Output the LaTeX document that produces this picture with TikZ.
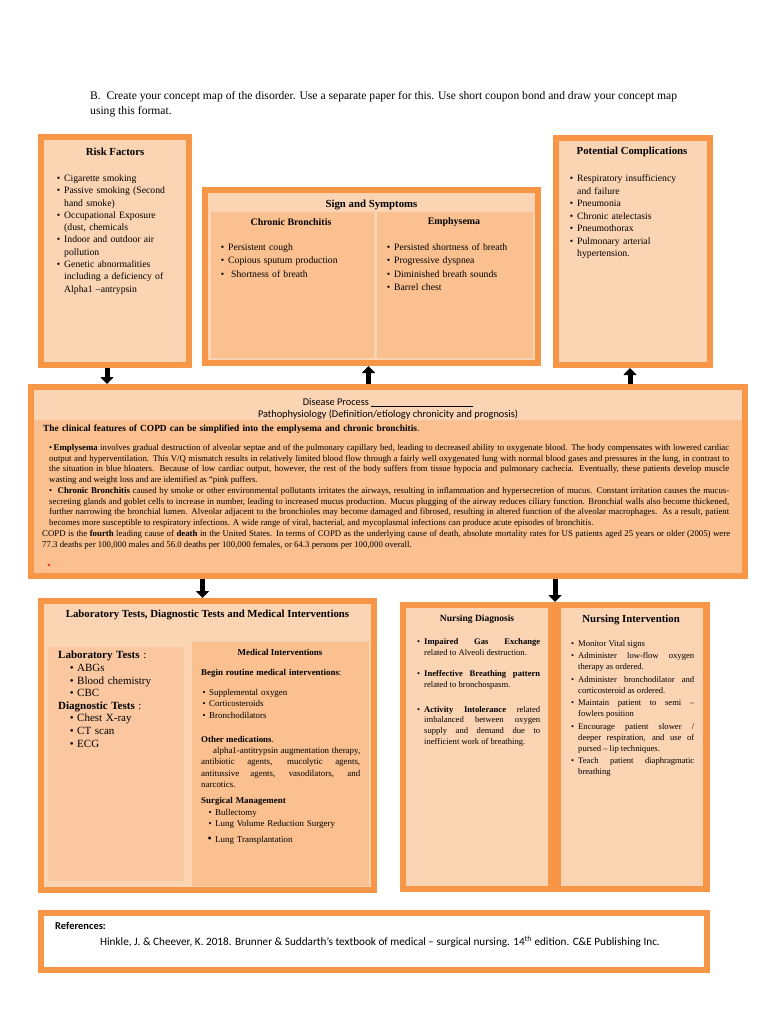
\documentclass[tikz,border=0pt]{standalone}
\usepackage{fontspec}
\setmainfont{Liberation Serif}
\newfontfamily\calibri{Carlito}
\usepackage{enumitem}
\usetikzlibrary{arrows.meta, positioning}
\definecolor{bandorange}{HTML}{F79646}
\definecolor{peachlight}{HTML}{FBD4B4}
\definecolor{peachmid}{HTML}{FAC7A0}
\definecolor{peachdark}{HTML}{FAC090}
\definecolor{dotred}{HTML}{E8322C}

\tikzset{
  boxframe/.style={rectangle, draw=bandorange, line width=6pt, fill=peachlight, inner sep=0pt},
  headtext/.style={inner sep=0pt, font=\bfseries\fontsize{10.8}{12}\selectfont},
  bodytext/.style={inner sep=0pt, anchor=north west, align=left},
  blockarrow/.style={line width=5pt, -{Triangle[width=13pt,length=7pt]}},
}

\begin{document}
\begin{tikzpicture}[x=1pt, y=-1pt]
    \useasboundingbox (0,0) rectangle (768,1024);

    % Instruccion
    \node[bodytext, font=\fontsize{11.6}{15}\selectfont] (task) at (90,91) {B.\ \ Create your concept map of the disorder. Use a separate paper for this. Use short coupon bond and draw your concept map\\using this format.};

    % Marcos
    \node[boxframe, minimum width=148pt, minimum height=228pt] (risk) at (115,251) {};
    \node[boxframe, minimum width=333pt, minimum height=173pt] (sign) at (371.5,276.5) {};
    \node[boxframe, minimum width=154pt, minimum height=227pt] (compl) at (633,251.5) {};
    \node[boxframe, minimum width=714pt, minimum height=189pt] (disease) at (388,481.5) {};
    \node[boxframe, minimum width=333pt, minimum height=289pt] (labs) at (207.5,745.5) {};
    \node[boxframe, fill=bandorange, minimum width=304pt, minimum height=284pt] (nursing) at (555,747) {};
    \node[boxframe, fill=white, minimum width=666pt, minimum height=57pt] (refs) at (374,941.5) {};

    % Paneles interiores
    \fill[peachdark] (211,212) rectangle (373.5,358);
    \fill[peachdark] (376.5,212) rectangle (533,358);
    \fill[peachdark] (34,420) rectangle (742,573);
    \fill[peachmid] (48,647) rectangle (184,881);
    \fill[peachdark] (192,642) rectangle (369,886);
    \fill[peachlight] (406,608) rectangle (548,886);
    \fill[peachlight] (561,608) rectangle (703,886);

    % Factores de riesgo
    \node[headtext] (risktitle) at (115,152) {Risk Factors};
    \node[bodytext, text width=124pt, font=\fontsize{9.7}{12.3}\selectfont] (risklist) at (53,169) {%
      \begin{itemize}[nosep, leftmargin=11pt, labelsep=4pt]
        \item Cigarette smoking
        \item Passive smoking (Second\newline hand smoke)
        \item Occupational Exposure\newline (dust, chemicals
        \item Indoor and outdoor air\newline pollution
        \item Genetic abnormalities\newline including a deficiency of\newline Alpha1 --antrypsin
      \end{itemize}};

    % Signos y sintomas
    \node[headtext] (signtitle) at (371.5,205) {Sign and Symptoms};
    \node[headtext, font=\bfseries\fontsize{9.9}{11}\selectfont] (bronchhead) at (291,222) {Chronic Bronchitis};
    \node[headtext, font=\bfseries\fontsize{9.9}{11}\selectfont] (emphhead) at (454,222) {Emphysema};
    \node[bodytext, text width=150pt, font=\fontsize{9.7}{13.3}\selectfont] (bronchlist) at (213,237) {%
      \begin{itemize}[nosep, leftmargin=15pt, labelsep=4pt]
        \item Persistent cough
        \item Copious sputum production
        \item \hspace{3pt}Shortness of breath
      \end{itemize}};
    \node[bodytext, text width=150pt, font=\fontsize{9.7}{13.3}\selectfont] (emphlist) at (380,237) {%
      \begin{itemize}[nosep, leftmargin=14pt, labelsep=4pt]
        \item Persisted shortness of breath
        \item Progressive dyspnea
        \item Diminished breath sounds
        \item Barrel chest
      \end{itemize}};

    % Complicaciones
    \node[headtext] (compltitle) at (632,152) {Potential Complications};
    \node[bodytext, text width=140pt, font=\fontsize{9.7}{12.5}\selectfont] (compllist) at (563,169) {%
      \begin{itemize}[nosep, leftmargin=14pt, labelsep=4pt]
        \item Respiratory insufficiency\newline and failure
        \item Pneumonia
        \item Chronic atelectasis
        \item Pneumothorax
        \item Pulmonary arterial\newline hypertension.
      \end{itemize}};

    % Proceso de la enfermedad
    \node[inner sep=0pt, align=center, font=\calibri\fontsize{10.3}{11.5}\selectfont] (dishead) at (388,409) {Disease Process \rule[-1pt]{102pt}{0.5pt}\\Pathophysiology (Definition/etiology chronicity and prognosis)};
    \node[bodytext, text width=690pt, font=\fontsize{9.4}{10.7}\selectfont] (features) at (43,425) {\textbf{The clinical features of COPD can be simplified into the emplysema and chronic bronchitis}.};
    \node[bodytext, text width=680pt, align=justify, font=\fontsize{8.8}{10.7}\selectfont] (emphpara) at (49,444) {\textbullet\,\textbf{Emplysema} involves gradual destruction of alveolar septae and of the pulmonary capillary bed, leading to decreased ability to oxygenate blood. The body compensates with lowered cardiac\linebreak output and hyperventilation. This V/Q mismatch results in relatively limited blood flow through a fairly well oxygenated lung with normal blood gases and pressures in the lung, in contrast to\linebreak the situation in blue bloaters. Because of low cardiac output, however, the rest of the body suffers from tissue hypocia and pulmonary cachecia. Eventually, these patients develop muscle\linebreak wasting and weight loss and are identified as ``pink puffers.};
    \node[bodytext, text width=680pt, align=justify, font=\fontsize{8.8}{10.7}\selectfont] (bronchpara) at (49,487) {\textbullet\ \ \textbf{Chronic Bronchitis} caused by smoke or other environmental pollutants irritates the airways, resulting in inflammation and hypersecretion of mucus. Constant irritation causes the mucus-\linebreak secreting glands and goblet cells to increase in number, leading to increased mucus production. Mucus plugging of the airway reduces ciliary function. Bronchial walls also become thickened,\linebreak further narrowing the bronchial lumen. Alveolar adjacent to the bronchioles may become damaged and fibrosed, resulting in altered function of the alveolar macrophages.\ \ As a result, patient\linebreak becomes more susceptible to respiratory infections. A wide range of viral, bacterial, and mycoplasmal infections can produce acute episodes of bronchitis.};
    \node[bodytext, text width=688pt, align=justify, font=\fontsize{8.8}{10.7}\selectfont] (mortality) at (42,530) {COPD is the \textbf{fourth} leading cause of \textbf{death} in the United States. In terms of COPD as the underlying cause of death, absolute mortality rates for US patients aged 25 years or older (2005) were\linebreak 77.3 deaths per 100,000 males and 56.0 deaths per 100,000 females, or 64.3 persons per 100,000 overall.};
    \node[circle, fill=dotred, inner sep=0.9pt] (reddot) at (49,565) {};

    % Pruebas e intervenciones medicas
    \node[headtext, font=\bfseries\fontsize{10.8}{12}\selectfont] (labtitle) at (207.5,615) {Laboratory Tests, Diagnostic Tests and Medical Interventions};
    \node[bodytext, text width=120pt, font=\fontsize{11}{12.6}\selectfont] (lablist) at (58,651) {%
      \textbf{Laboratory Tests} :
      \begin{itemize}[nosep, leftmargin=19pt, labelsep=3.5pt]
        \item ABGs
        \item Blood chemistry
        \item CBC
      \end{itemize}
      \textbf{Diagnostic Tests} :
      \begin{itemize}[nosep, leftmargin=19pt, labelsep=3.5pt]
        \item Chest X-ray
        \item CT scan
        \item ECG
      \end{itemize}};
    \node[headtext, font=\bfseries\fontsize{9}{10}\selectfont] (medtitle) at (280,652) {Medical Interventions};
    \node[bodytext, text width=160pt, font=\fontsize{8.9}{11.8}\selectfont] (medbegin) at (201,669) {%
      \textbf{Begin routine medical interventions}:\par\vspace{8pt}
      \begin{itemize}[nosep, leftmargin=8pt, labelsep=3.5pt]
        \item Supplemental oxygen
        \item Corticosteroids
        \item Bronchodilators
      \end{itemize}};
    \node[bodytext, text width=159pt, align=justify, font=\fontsize{8.9}{11.3}\selectfont] (medother) at (201,736) {\textbf{Other medications}.\par\hspace*{12pt}alpha1-antitrypsin augmentation therapy,\linebreak antibiotic agents, mucolytic agents,\linebreak antitussive agents, vasodilators, and\linebreak narcotics.};
    \node[bodytext, text width=160pt, font=\fontsize{8.9}{11.8}\selectfont] (medsurg) at (201,797) {%
      \textbf{Surgical Management}
      \begin{itemize}[nosep, leftmargin=14pt, labelsep=3.5pt]
        \item Bullectomy
        \item Lung Volume Reduction Surgery
        \vspace{4pt}
        \item[\large\textbullet] Lung Transplantation
      \end{itemize}};

    % Diagnostico de enfermeria
    \node[headtext, font=\bfseries\fontsize{9.5}{11}\selectfont] (diaghead) at (477,619) {Nursing Diagnosis};
    \node[bodytext, text width=127pt, align=justify, font=\fontsize{8.6}{10.6}\selectfont] (diaglist) at (413,634) {%
      \begin{itemize}[nosep, leftmargin=11pt, labelsep=4pt, itemsep=10.5pt]
        \item \textbf{Impaired Gas Exchange}\linebreak related to Alveoli destruction.
        \item \textbf{Ineffective Breathing pattern}\linebreak related to bronchospasm.
        \vspace{4pt}
        \item \textbf{Activity Intolerance} related\linebreak imbalanced between oxygen\linebreak supply and demand due to\linebreak inefficient work of breathing.
      \end{itemize}};

    % Intervencion de enfermeria
    \node[headtext] (intvhead) at (631,620) {Nursing Intervention};
    \node[bodytext, text width=128pt, align=justify, font=\fontsize{8.6}{11}\selectfont] (intvlist) at (566,635) {%
      \begin{itemize}[nosep, leftmargin=12pt, labelsep=4pt, itemsep=1.5pt]
        \item Monitor Vital signs
        \item Administer low-flow oxygen\linebreak therapy as ordered.
        \item Administer bronchodilator and\linebreak corticosteroid as ordered.
        \item Maintain patient to semi --\linebreak fowlers position
        \item Encourage patient slower /\linebreak deeper respiration, and use of\linebreak pursed -- lip techniques.
        \item Teach patient diaphragmatic\linebreak breathing
      \end{itemize}};

    % Referencias
    \node[bodytext, font=\calibri\bfseries\fontsize{10.5}{12}\selectfont] (refhead) at (55,922) {References:};
    \node[bodytext, font=\calibri\fontsize{11.2}{12}\selectfont] (refbody) at (100,936) {Hinkle, J. \& Cheever, K. 2018. Brunner \& Suddarth’s textbook of medical \textendash\ surgical nursing. 14\textsuperscript{th} edition. C\&E Publishing Inc.};

    % Flechas
    \draw[blockarrow] ([xshift=-8pt]risk.south) -- ([xshift=-8pt]risk.south |- disease.north);
    \draw[blockarrow] ([xshift=-3pt]sign.south |- disease.north) -- ([xshift=-3pt]sign.south);
    \draw[blockarrow] ([xshift=-3pt]compl.south |- disease.north) -- ([xshift=-3pt]compl.south);
    \draw[blockarrow] ([xshift=-5pt]labs.north |- disease.south) -- ([xshift=-5pt]labs.north);
    \draw[blockarrow] (nursing.north |- disease.south) -- (nursing.north);

\end{tikzpicture}
\end{document}
